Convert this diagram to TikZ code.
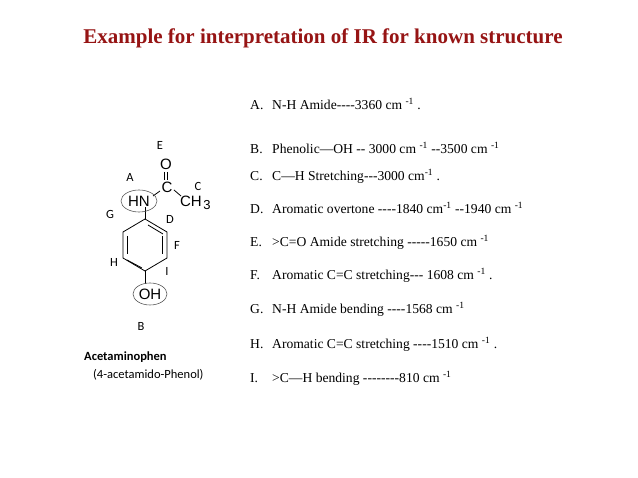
\documentclass[tikz,border=0pt]{standalone}
\usepackage{fontspec}
\setmainfont{Liberation Serif}
\newfontfamily\calfont{Carlito}
\newfontfamily\ars{Liberation Sans}
\definecolor{tred}{RGB}{150,20,20}
\newcommand\hh[1]{\foreach \k in {1,...,#1}{-\kern0pt}}
\newcommand\sm{\textsuperscript{-1}}
\begin{document}
\begin{tikzpicture}[x=1pt,y=-1pt,
  item/.style={anchor=base west,font=\fontsize{13.6}{15}\selectfont,inner sep=0},
  lab/.style={font=\calfont\fontsize{12.5}{14}\selectfont,inner sep=0},
  atom/.style={font=\ars\fontsize{15}{17}\selectfont,inner sep=0},
  bond/.style={line width=0.8pt}]
\useasboundingbox (0,0) rectangle (638,478);
\node[font=\bfseries\fontsize{21}{24}\selectfont,text=tred] (title) at (323,38) {Example for interpretation of IR for known structure};
\foreach \l/\t/\y [count=\i] in {
 A/{N-H Amide\hh{4}3360 cm \sm\ .}/105,
 B/{Phenolic—OH \hh{2} 3000 cm \sm\ \hh{2}3500 cm \sm}/149,
 C/{C—H Stretching\hh{3}3000 cm\sm\ .}/176,
 D/{Aromatic overtone \hh{4}1840 cm\sm\ \hh{2}1940 cm \sm}/209,
 E/{>C=O Amide stretching \hh{5}1650 cm \sm}/242,
 F/{Aromatic C=C stretching\hh{3} 1608 cm \sm\ .}/275,
 G/{N-H Amide bending \hh{4}1568 cm \sm}/309,
 H/{Aromatic C=C stretching \hh{4}1510 cm \sm\ .}/344,
 I/{>C—H bending \hh{8}810 cm \sm}/378}
 {\node[item] (L\i) at (250,\y+4.5) {\l.}; \node[item] (T\i) at (272,\y+4.5) {\t};}
% molecule
\coordinate (r1) at (145,219); \coordinate (r2) at (167,232);
\coordinate (r3) at (167,258); \coordinate (r4) at (145,271);
\coordinate (r5) at (123,258); \coordinate (r6) at (123,232);
\draw[bond] (r1)--(r2)--(r3)--(r4)--(r5)--(r6)--cycle;
\draw[bond] (127.5,236)--(127.5,254);
\draw[bond] (148,225)--(163,234);
\draw[bond] (162.5,236)--(162.5,254);
\draw[bond] (127,260)--(142,268);
\node[atom] (HN) at (139,201) {HN};
\node[atom] (Cc) at (167,187) {C};
\node[atom] (O) at (166,164) {O};
\node[atom] (CH) at (191,201) {CH};
\node[atom,font=\ars\fontsize{13}{15}\selectfont] (three) at (207,205) {3};
\node[atom] (OH) at (150,294) {OH};
\draw[bond] (r1)--(145,207);
\draw[bond] (153,196)--(160,191);
\draw[bond] (174,190)--(181,196);
\draw[bond] (164.5,172)--(164.5,180) (167.5,172)--(167.5,180);
\draw[bond] (r4)--(145,284);
\draw[gray!70!black,line width=0.6pt] (HN) ellipse (18 and 11);
\draw[gray!70!black,line width=0.6pt] (OH) ellipse (17 and 11);
\node[lab] (lE) at (160,145) {E};
\node[lab] (lA) at (130,177) {A};
\node[lab] (lC) at (198,186) {C};
\node[lab] (lG) at (110,214) {G};
\node[lab] (lD) at (170,219) {D};
\node[lab] (lF) at (177,245) {F};
\node[lab] (lH) at (114,262) {H};
\node[lab] (lI) at (167,271) {I};
\node[lab] (lB) at (141,326) {B};
\node[lab,font=\calfont\bfseries\fontsize{12.5}{14}\selectfont,anchor=west] (name) at (84,357) {Acetaminophen};
\node[lab,anchor=west] (sub) at (93,375) {(4-acetamido-Phenol)};
\end{tikzpicture}
\end{document}
